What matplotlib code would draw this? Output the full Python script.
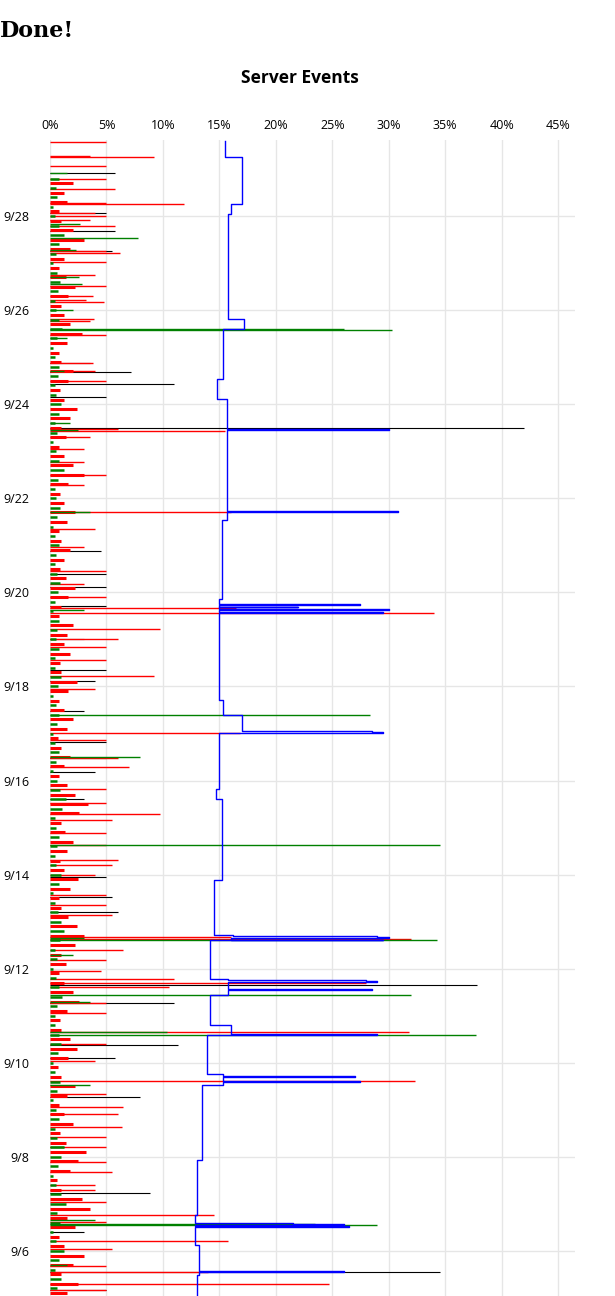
import matplotlib
matplotlib.use("Agg")
import matplotlib.pyplot as plt
import numpy as np

# ---- data (day of September, percent) ----
blue_days = [5.04,5.49,5.55,5.57,6.13,6.50,6.52,6.55,6.57,6.60,6.77,7.94,9.53,9.60,9.62,9.70,9.72,9.75,
             10.60,10.62,10.81,11.45,11.55,11.57,11.72,11.74,11.76,11.77,12.60,12.62,12.65,12.68,12.70,12.72,
             13.89,15.60,15.81,17.02,17.04,17.06,17.40,17.72,19.57,19.59,19.62,19.64,19.68,19.70,19.74,19.76,
             19.85,21.55,21.70,21.72,21.74,23.45,23.47,23.49,24.11,24.53,25.60,25.81,28.04,28.26,29.26,29.60]
blue_vals = [13.0,13.2,26.0,13.2,12.8,26.5,12.8,26.0,21.5,12.8,13.0,13.5,15.3,27.5,15.3,27.0,15.3,13.9,
             29.0,16.0,14.2,15.8,28.5,15.8,29.0,28.0,15.8,14.2,29.5,16.0,30.0,29.0,16.2,14.5,
             15.2,14.7,15.0,29.5,28.5,17.0,15.3,15.0,29.5,15.0,30.0,15.0,22.0,15.0,27.5,15.0,
             15.2,15.7,25.5,30.8,15.7,30.0,15.7,15.7,14.8,15.3,17.2,15.8,16.0,17.0,15.5,15.5]

red_days = [29.57,29.28,29.26,29.06,28.80,28.58,28.28,28.26,28.06,28.00,27.91,27.79,27.26,27.22,27.02,26.74,
            26.52,26.30,26.21,26.17,25.81,25.77,25.47,24.87,24.70,24.49,23.47,23.43,23.30,23.04,22.77,22.49,
            22.28,21.72,21.34,20.96,20.45,20.17,19.91,19.66,19.57,19.23,19.00,18.83,18.57,18.23,17.94,17.02,
            16.87,16.49,16.28,15.81,15.53,15.28,15.17,14.89,14.64,14.32,14.21,14.00,13.57,13.36,13.15,12.68,
            12.64,12.40,12.19,11.94,11.77,11.70,11.60,11.28,11.06,10.66,10.40,10.04,9.62,9.34,9.06,8.91,8.64,
            8.43,8.21,7.89,7.68,7.40,7.30,7.04,6.77,6.62,6.21,6.04,5.68,5.55,5.30,5.17]
red_vals  = [5.0,3.5,9.2,5.0,5.0,5.8,5.0,11.9,4.0,5.0,3.5,5.8,5.0,6.2,5.0,4.0,5.0,3.8,3.2,4.8,3.9,3.5,5.0,
             3.8,4.0,5.0,6.0,15.5,3.5,3.0,3.0,5.0,3.0,16.0,4.0,3.0,5.0,3.0,5.0,16.5,34.0,9.7,6.0,5.0,5.0,9.2,
             4.0,16.8,5.0,6.0,7.0,5.0,5.0,9.7,5.5,5.0,5.0,6.0,5.5,4.0,5.0,5.0,5.5,16.0,32.0,6.5,5.0,4.5,11.0,
             28.0,10.5,5.0,5.0,31.8,5.0,4.0,32.3,5.0,6.5,6.0,6.4,5.0,5.0,5.0,5.5,4.0,4.0,5.0,14.5,5.0,15.8,5.5,
             5.0,14.0,24.7,5.0]

# small background activity, one reading per 0.2 day from 5.1 upward
red_noise = [1.5,2.5,1.0,2.0,3.0,1.2,0.8,2.2,1.5,3.5,2.8,1.0,0.6,1.8,2.5,3.2,1.4,0.9,2.0,1.2,
             0.8,1.5,2.2,1.0,0.7,1.6,2.4,1.8,1.0,0.9,1.5,2.6,2.0,1.2,0.8,1.4,1.0,2.2,3.0,2.4,
             1.6,1.0,0.8,1.8,2.5,1.2,0.9,1.5,2.0,1.3,1.0,2.6,3.4,2.2,1.5,0.8,1.2,1.8,1.0,0.7,
             1.5,2.0,1.2,0.8,1.6,2.4,1.0,0.9,1.8,1.2,1.5,2.0,0.8,1.0,1.6,2.2,1.4,0.9,1.2,1.8,
             1.0,0.8,1.5,2.2,1.2,0.9,1.6,3.0,2.0,1.2,0.8,1.4,1.0,1.8,2.4,1.2,0.9,1.6,2.0,1.0,
             0.8,1.5,2.8,1.8,1.2,1.0,1.6,2.2,1.4,0.8,1.2,1.8,3.0,2.0,1.0,0.8,1.5,1.2,2.0]

green_days = [25.6,25.58,17.40,14.64,12.62,11.45,10.60,6.55,6.57,28.92,27.83,27.53,27.28,26.70,26.55,
              26.00,25.40,24.70,23.60,23.45,21.70,19.62,16.50,12.66,12.30,11.30,10.66,9.53,8.20,6.65,5.70]
green_vals = [26.0,30.3,28.3,34.5,34.3,32.0,37.7,29.0,23.5,1.5,2.7,7.8,2.3,2.6,2.8,2.0,1.5,1.2,1.8,2.5,
              3.5,3.0,8.0,3.0,2.0,3.5,10.4,3.5,1.2,4.0,1.5]
green_noise = [0.6,1.0,0.4,0.8,1.2,0.5,0.3,0.9,0.6,1.4,1.0,0.5,0.3,0.7,1.0,1.2,0.6,0.4,0.8,0.5,
               0.3,0.6,0.9,0.4,0.3,0.7,1.0,0.8,0.4,0.4,0.6,1.1,0.8,0.5,0.3,0.6,0.4,0.9,1.2,1.0,
               0.7,0.4,0.3,0.8,1.0,0.5,0.4,0.6,0.8,0.5,0.4,1.1,1.4,0.9,0.6,0.3,0.5,0.8,0.4,0.3,
               0.6,0.8,0.5,0.3,0.7,1.0,0.4,0.4,0.8,0.5,0.6,0.8,0.3,0.4,0.7,0.9,0.6,0.4,0.5,0.8,
               0.4,0.3,0.6,0.9,0.5,0.4,0.7,1.2,0.8,0.5,0.3,0.6,0.4,0.8,1.0,0.5,0.4,0.7,0.8,0.4,
               0.3,0.6,1.1,0.8,0.5,0.4,0.7,0.9,0.6,0.3,0.5,0.8,1.2,0.8,0.4,0.3,0.6,0.5,0.8]

black_days = [28.92,28.06,27.68,27.26,24.87,24.68,24.43,24.15,23.49,20.89,20.40,20.12,19.72,19.00,18.36,
              18.11,17.47,16.83,16.49,16.19,15.60,13.95,13.53,13.21,11.66,11.28,10.38,10.11,9.28,7.23,6.40,5.55,5.17]
black_vals = [5.8,5.0,5.8,5.5,3.5,7.2,11.0,5.0,42.0,4.5,5.0,5.0,5.0,3.0,5.0,4.0,3.0,5.0,5.0,4.0,3.0,5.0,5.5,
              6.0,37.8,11.0,11.3,5.8,8.0,8.9,3.0,34.5,5.0]

# ---- figure ----
W, H = 615, 1296
fig = plt.figure(figsize=(W/100, H/100), dpi=100)
ax = fig.add_axes([50/W, 0, 525/W, 1 - 140/H])
xmax = 46.5
ax.set_xlim(0, xmax)
ax.set_ylim(5.04, 29.62)

for v in range(0, 50, 5):
    ax.axvline(v, color="#e6e6e6", lw=1, zorder=0)
for d in range(6, 30, 2):
    ax.axhline(d, color="#e6e6e6", lw=1, zorder=0)

noise_days = [5.1 + 0.2*i for i in range(len(red_noise))]
ax.hlines(noise_days, 0, red_noise, color="red", lw=2.2, zorder=2)
ax.hlines([d + 0.1 for d in noise_days], 0, green_noise, color="green", lw=1.8, zorder=3)
ax.hlines(black_days, 0, black_vals, color="black", lw=0.8, zorder=1)
ax.hlines(red_days, 0, red_vals, color="red", lw=1.0, zorder=2)
ax.hlines(green_days, 0, green_vals, color="green", lw=1.0, zorder=3)

# blue step line (steps in time)
xs, ys = [], []
for i in range(len(blue_days) - 1):
    xs += [blue_vals[i], blue_vals[i]]
    ys += [blue_days[i], blue_days[i+1]]
ax.plot(xs, ys, color="blue", lw=1.0, zorder=4)

ax.xaxis.tick_top()
ax.set_xticks(range(0, 50, 5))
ax.set_xticklabels([f"{v}%" for v in range(0, 50, 5)], fontsize=9, family="Open Sans")
ax.set_yticks(range(6, 30, 2))
ax.set_yticklabels([f"9/{d}" for d in range(6, 30, 2)], fontsize=9, family="Open Sans")
ax.tick_params(length=0, pad=6)
ax.tick_params(axis="y", pad=15)
for s in ax.spines.values():
    s.set_visible(False)

fig.text(0, 1 - 31/H, "Done!", fontsize=16, fontweight="bold", family="DejaVu Serif", va="center", ha="left")
fig.text(300/W, 1 - 78/H, "Server Events", fontsize=12.5, fontweight="bold", family="Open Sans", va="center", ha="center")

fig.savefig("out.png", dpi=100)
